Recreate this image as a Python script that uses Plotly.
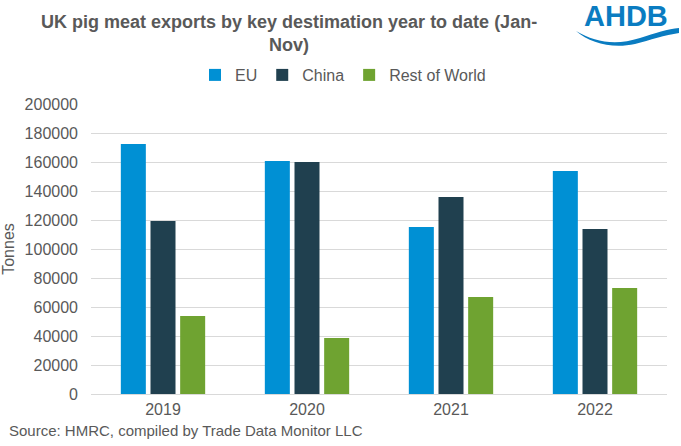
import plotly.graph_objects as go

years = ["2019", "2020", "2021", "2022"]
eu = [172400, 160700, 115200, 153800]
china = [119300, 160000, 135900, 113800]
rest_of_world = [53800, 38600, 66900, 73100]
series_names = ["EU", "China", "Rest of World"]
colors = ["#0090D4", "#20404F", "#6FA331"]

W, H = 681, 446
L, R, T, B = 91, 14, 104, 52
pw, ph = W - L - R, H - T - B

def px(x):
    return (x - L) / pw

def py(y):
    return (H - B - y) / ph

fig = go.Figure()
for name, vals, c in zip(series_names, [eu, china, rest_of_world], colors):
    fig.add_trace(go.Bar(name=name, x=years, y=vals, marker=dict(color=c, line=dict(width=0))))

font_family = "Liberation Sans, Arial, sans-serif"
grey = "#595959"

fig.update_layout(
    width=W, height=H,
    margin=dict(l=L, r=R, t=T, b=B, autoexpand=False),
    paper_bgcolor="white", plot_bgcolor="white",
    barmode="group", bargap=0.382, bargroupgap=0.157,
    font=dict(family=font_family, size=16, color=grey),
    showlegend=True,
    legend=dict(orientation="h", x=px(343), y=py(75), xanchor="center", yanchor="middle",
                font=dict(size=16, color=grey), itemwidth=30, traceorder="normal",
                bgcolor="rgba(0,0,0,0)"),
    xaxis=dict(showgrid=False, showline=False, ticks="", tickfont=dict(size=16, color=grey),
               ticklabelstandoff=4, automargin=False),
    yaxis=dict(range=[0, 200000], dtick=20000, showgrid=True, gridcolor="#D9D9D9", gridwidth=1,
               zeroline=True, zerolinecolor="#D9D9D9", zerolinewidth=1, tickformat="d",
               tickfont=dict(size=16, color=grey), ticks="", ticklen=0, ticklabelstandoff=12,
               automargin=False,
               title=dict(text="Tonnes", font=dict(size=16, color=grey), standoff=6)),
)

fig.add_annotation(text="<b>UK pig meat exports by key destimation year to date (Jan-<br>Nov)</b>",
                   xref="paper", yref="paper", x=px(289), y=py(10), xanchor="center", yanchor="top",
                   showarrow=False, font=dict(size=18, color=grey, family=font_family), align="center")

fig.add_annotation(text="Source: HMRC, compiled by Trade Data Monitor LLC",
                   xref="paper", yref="paper", x=px(7), y=py(430), xanchor="left", yanchor="middle",
                   showarrow=False, font=dict(size=15, color=grey, family=font_family))

logo_blue = "#0A7CC1"
fig.add_annotation(text="<b>AHDB</b>", xref="paper", yref="paper", x=px(626), y=py(16),
                   xanchor="center", yanchor="middle", showarrow=False, borderpad=0,
                   font=dict(size=29, color=logo_blue, family=font_family))

def P(x, y):
    return f"{px(x)},{py(y)}"

wave = (f"M {P(576,31)} C {P(595,42)} {P(615,46)} {P(640,38)} "
        f"C {P(655,33)} {P(668,29)} {P(679,28)} L {P(679,33)} "
        f"C {P(665,35)} {P(650,40)} {P(635,44)} C {P(612,49)} {P(590,43)} {P(576,31)} Z")
fig.add_shape(type="path", path=wave, xref="paper", yref="paper",
              fillcolor=logo_blue, line=dict(width=0))

fig.write_html("out.html")
